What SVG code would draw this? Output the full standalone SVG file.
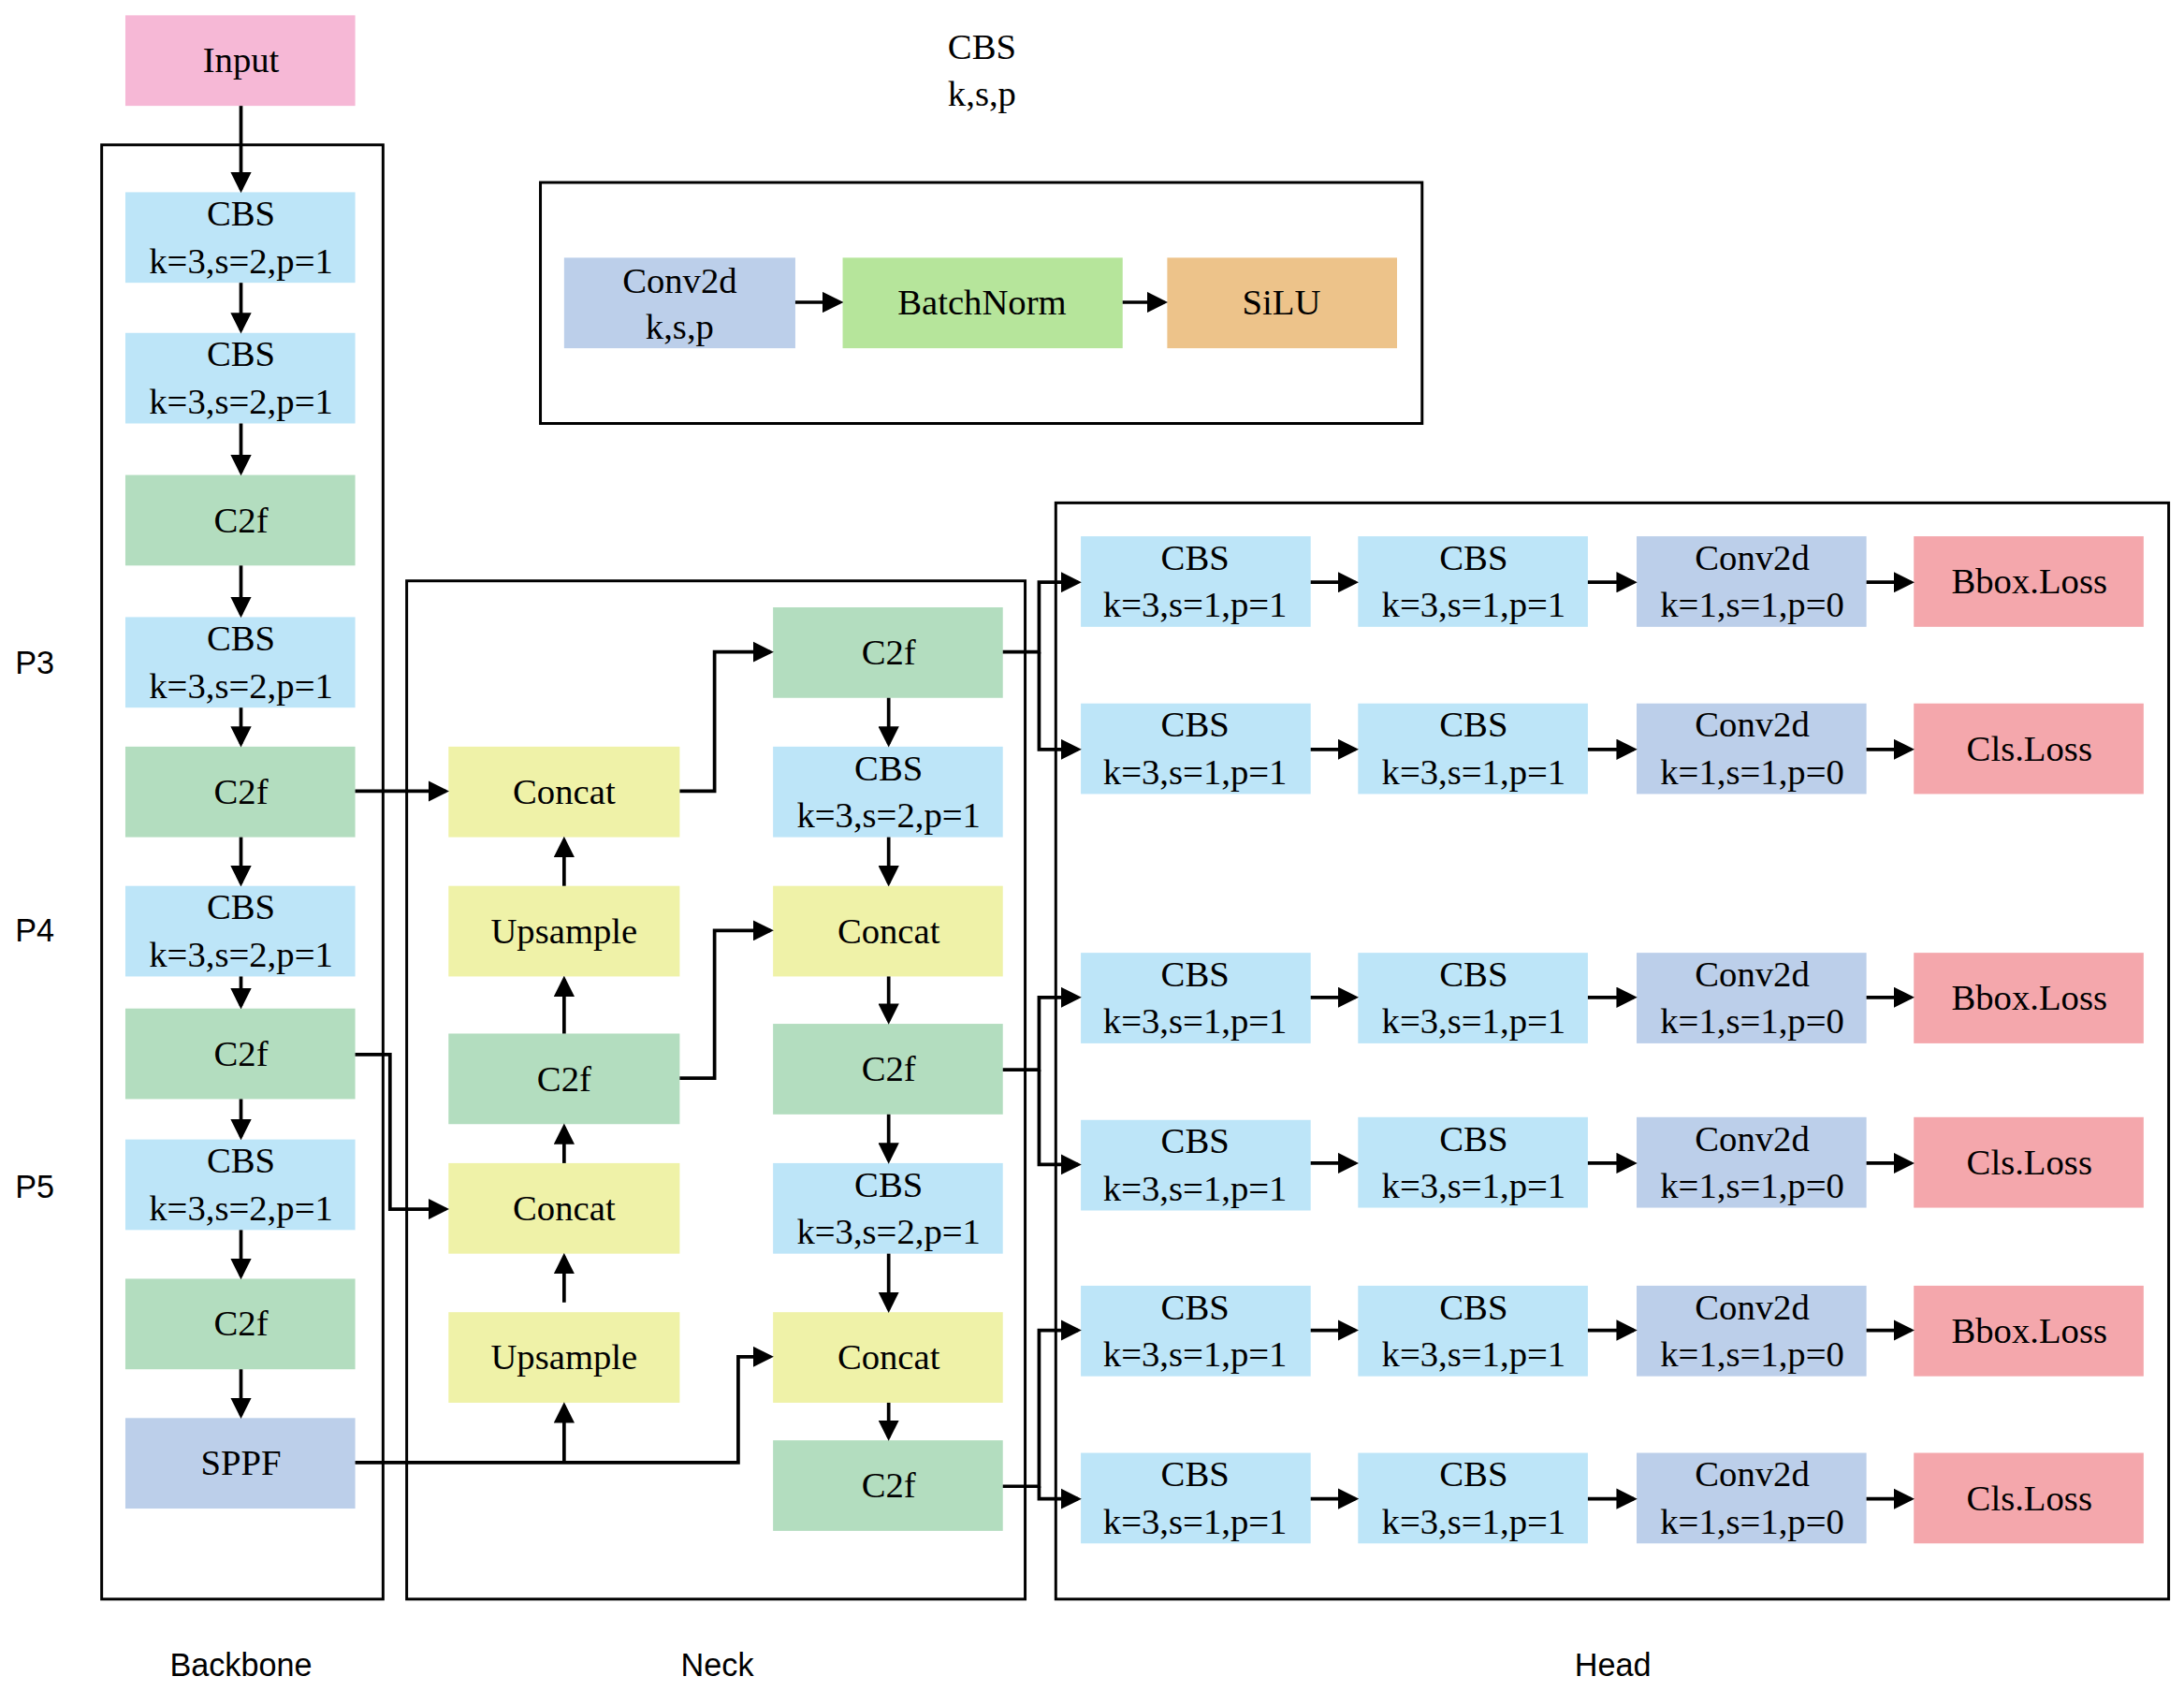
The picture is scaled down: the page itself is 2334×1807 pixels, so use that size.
<svg xmlns="http://www.w3.org/2000/svg" width="2334" height="1807" viewBox="0 0 2334 1807">
<style>
.t{font-family:"Liberation Serif",serif;font-size:26px;fill:#000;text-anchor:middle}
.s{font-family:"Liberation Sans",sans-serif;font-size:23px;fill:#000;text-anchor:middle}
.cbs{fill:#BDE5F8}.c2f{fill:#B3DDBF}.cat{fill:#EFF2A8}.cv{fill:#BCCFEA}.loss{fill:#F4A7AC}
.box{fill:none;stroke:#000;stroke-width:2}
.c path{fill:none;stroke:#000;stroke-width:2.5;marker-end:url(#a)}
</style>
<defs><marker id="a" markerWidth="6" markerHeight="6" refX="5" refY="3" orient="auto" markerUnits="strokeWidth"><path d="M0,0L6,3L0,6z" fill="#000"/></marker></defs>
<rect width="2334" height="1807" fill="#fff"/>
<g transform="scale(1.48852)">
<rect class="box" x="73" y="104" width="202" height="1044"/>
<rect class="box" x="292" y="417" width="444" height="731"/>
<rect class="box" x="758" y="361" width="799" height="787"/>
<rect class="box" x="388" y="131" width="633" height="173"/>
<text class="t" x="705" y="42">CBS</text><text class="t" x="705" y="76">k,s,p</text>
<text class="s" x="25" y="484">P3</text><text class="s" x="25" y="676">P4</text><text class="s" x="25" y="860">P5</text>
<text class="s" x="173" y="1203">Backbone</text><text class="s" x="515" y="1203">Neck</text><text class="s" x="1158" y="1203">Head</text>
<g id="input"><rect x="90" y="11" width="165" height="65" fill="#F6B8D6"/><text class="t" x="173" y="52">Input</text></g>
<g id="leg-conv"><rect class="cv" x="405" y="185" width="166" height="65"/><text class="t" x="488" y="210">Conv2d</text><text class="t" x="488" y="243">k,s,p</text></g>
<g id="leg-bn"><rect x="605" y="185" width="201" height="65" fill="#B6E59B"/><text class="t" x="705" y="226">BatchNorm</text></g>
<g id="leg-silu"><rect x="838" y="185" width="165" height="65" fill="#EDC38A"/><text class="t" x="920" y="226">SiLU</text></g>
<!-- backbone -->
<g id="b1"><rect class="cbs" x="90" y="138" width="165" height="65"/><text class="t" x="173" y="162">CBS</text><text class="t" x="173" y="196">k=3,s=2,p=1</text></g>
<g id="b2"><rect class="cbs" x="90" y="239" width="165" height="65"/><text class="t" x="173" y="263">CBS</text><text class="t" x="173" y="297">k=3,s=2,p=1</text></g>
<g id="b3"><rect class="c2f" x="90" y="341" width="165" height="65"/><text class="t" x="173" y="382">C2f</text></g>
<g id="b4"><rect class="cbs" x="90" y="443" width="165" height="65"/><text class="t" x="173" y="467">CBS</text><text class="t" x="173" y="501">k=3,s=2,p=1</text></g>
<g id="b5"><rect class="c2f" x="90" y="536" width="165" height="65"/><text class="t" x="173" y="577">C2f</text></g>
<g id="b6"><rect class="cbs" x="90" y="636" width="165" height="65"/><text class="t" x="173" y="660">CBS</text><text class="t" x="173" y="694">k=3,s=2,p=1</text></g>
<g id="b7"><rect class="c2f" x="90" y="724" width="165" height="65"/><text class="t" x="173" y="765">C2f</text></g>
<g id="b8"><rect class="cbs" x="90" y="818" width="165" height="65"/><text class="t" x="173" y="842">CBS</text><text class="t" x="173" y="876">k=3,s=2,p=1</text></g>
<g id="b9"><rect class="c2f" x="90" y="918" width="165" height="65"/><text class="t" x="173" y="959">C2f</text></g>
<g id="b10"><rect class="cv" x="90" y="1018" width="165" height="65"/><text class="t" x="173" y="1059">SPPF</text></g>
<!-- neck left -->
<g id="n1"><rect class="cat" x="322" y="536" width="166" height="65"/><text class="t" x="405" y="577">Concat</text></g>
<g id="n2"><rect class="cat" x="322" y="636" width="166" height="65"/><text class="t" x="405" y="677">Upsample</text></g>
<g id="n3"><rect class="c2f" x="322" y="742" width="166" height="65"/><text class="t" x="405" y="783">C2f</text></g>
<g id="n4"><rect class="cat" x="322" y="835" width="166" height="65"/><text class="t" x="405" y="876">Concat</text></g>
<g id="n5"><rect class="cat" x="322" y="942" width="166" height="65"/><text class="t" x="405" y="983">Upsample</text></g>
<!-- neck right -->
<g id="r1"><rect class="c2f" x="555" y="436" width="165" height="65"/><text class="t" x="638" y="477">C2f</text></g>
<g id="r2"><rect class="cbs" x="555" y="536" width="165" height="65"/><text class="t" x="638" y="560">CBS</text><text class="t" x="638" y="594">k=3,s=2,p=1</text></g>
<g id="r3"><rect class="cat" x="555" y="636" width="165" height="65"/><text class="t" x="638" y="677">Concat</text></g>
<g id="r4"><rect class="c2f" x="555" y="735" width="165" height="65"/><text class="t" x="638" y="776">C2f</text></g>
<g id="r5"><rect class="cbs" x="555" y="835" width="165" height="65"/><text class="t" x="638" y="859">CBS</text><text class="t" x="638" y="893">k=3,s=2,p=1</text></g>
<g id="r6"><rect class="cat" x="555" y="942" width="165" height="65"/><text class="t" x="638" y="983">Concat</text></g>
<g id="r7"><rect class="c2f" x="555" y="1034" width="165" height="65"/><text class="t" x="638" y="1075">C2f</text></g>
<!-- head rows -->
<g id="h1"><rect class="cbs" x="776" y="385" width="165" height="65"/><text class="t" x="858" y="409">CBS</text><text class="t" x="858" y="443">k=3,s=1,p=1</text><rect class="cbs" x="975" y="385" width="165" height="65"/><text class="t" x="1058" y="409">CBS</text><text class="t" x="1058" y="443">k=3,s=1,p=1</text><rect class="cv" x="1175" y="385" width="165" height="65"/><text class="t" x="1258" y="409">Conv2d</text><text class="t" x="1258" y="443">k=1,s=1,p=0</text><rect class="loss" x="1374" y="385" width="165" height="65"/><text class="t" x="1457" y="426">Bbox.Loss</text></g>
<g id="h2"><rect class="cbs" x="776" y="505" width="165" height="65"/><text class="t" x="858" y="529">CBS</text><text class="t" x="858" y="563">k=3,s=1,p=1</text><rect class="cbs" x="975" y="505" width="165" height="65"/><text class="t" x="1058" y="529">CBS</text><text class="t" x="1058" y="563">k=3,s=1,p=1</text><rect class="cv" x="1175" y="505" width="165" height="65"/><text class="t" x="1258" y="529">Conv2d</text><text class="t" x="1258" y="563">k=1,s=1,p=0</text><rect class="loss" x="1374" y="505" width="165" height="65"/><text class="t" x="1457" y="546">Cls.Loss</text></g>
<g id="h3"><rect class="cbs" x="776" y="684" width="165" height="65"/><text class="t" x="858" y="708">CBS</text><text class="t" x="858" y="742">k=3,s=1,p=1</text><rect class="cbs" x="975" y="684" width="165" height="65"/><text class="t" x="1058" y="708">CBS</text><text class="t" x="1058" y="742">k=3,s=1,p=1</text><rect class="cv" x="1175" y="684" width="165" height="65"/><text class="t" x="1258" y="708">Conv2d</text><text class="t" x="1258" y="742">k=1,s=1,p=0</text><rect class="loss" x="1374" y="684" width="165" height="65"/><text class="t" x="1457" y="725">Bbox.Loss</text></g>
<g id="h4"><rect class="cbs" x="776" y="804" width="165" height="65"/><text class="t" x="858" y="828">CBS</text><text class="t" x="858" y="862">k=3,s=1,p=1</text><rect class="cbs" x="975" y="802" width="165" height="65"/><text class="t" x="1058" y="826">CBS</text><text class="t" x="1058" y="860">k=3,s=1,p=1</text><rect class="cv" x="1175" y="802" width="165" height="65"/><text class="t" x="1258" y="826">Conv2d</text><text class="t" x="1258" y="860">k=1,s=1,p=0</text><rect class="loss" x="1374" y="802" width="165" height="65"/><text class="t" x="1457" y="843">Cls.Loss</text></g>
<g id="h5"><rect class="cbs" x="776" y="923" width="165" height="65"/><text class="t" x="858" y="947">CBS</text><text class="t" x="858" y="981">k=3,s=1,p=1</text><rect class="cbs" x="975" y="923" width="165" height="65"/><text class="t" x="1058" y="947">CBS</text><text class="t" x="1058" y="981">k=3,s=1,p=1</text><rect class="cv" x="1175" y="923" width="165" height="65"/><text class="t" x="1258" y="947">Conv2d</text><text class="t" x="1258" y="981">k=1,s=1,p=0</text><rect class="loss" x="1374" y="923" width="165" height="65"/><text class="t" x="1457" y="964">Bbox.Loss</text></g>
<g id="h6"><rect class="cbs" x="776" y="1043" width="165" height="65"/><text class="t" x="858" y="1067">CBS</text><text class="t" x="858" y="1101">k=3,s=1,p=1</text><rect class="cbs" x="975" y="1043" width="165" height="65"/><text class="t" x="1058" y="1067">CBS</text><text class="t" x="1058" y="1101">k=3,s=1,p=1</text><rect class="cv" x="1175" y="1043" width="165" height="65"/><text class="t" x="1258" y="1067">Conv2d</text><text class="t" x="1258" y="1101">k=1,s=1,p=0</text><rect class="loss" x="1374" y="1043" width="165" height="65"/><text class="t" x="1457" y="1084">Cls.Loss</text></g>
<g class="c" id="connectors">
<path d="M173,76V136"/><path d="M173,203V237"/><path d="M173,304V339"/><path d="M173,406V441"/><path d="M173,508V534"/><path d="M173,601V634"/><path d="M173,701V722"/><path d="M173,789V816"/><path d="M173,883V916"/><path d="M173,983V1016"/>
<path d="M571,217H603"/><path d="M806,217H836"/>
<path d="M255,568H320"/><path d="M255,757H280V868H320"/>
<path d="M405,636V603"/><path d="M405,742V703"/><path d="M405,835V809"/><path d="M405,935V902"/>
<path d="M255,1050H530V974H553"/><path d="M405,1050V1009"/>
<path d="M488,568H513V468H553"/><path d="M488,774H513V668H553"/>
<path d="M638,501V534"/><path d="M638,601V634"/><path d="M638,701V733"/><path d="M638,800V833"/><path d="M638,900V940"/><path d="M638,1007V1032"/>
<path d="M720,468H746V418H774"/><path d="M746,468V538H774"/>
<path d="M720,768H746V716H774"/><path d="M746,768V836H774"/>
<path d="M720,1067H746V955H774"/><path d="M746,1067V1076H774"/>
<path d="M941,418H973"/><path d="M1140,418H1173"/><path d="M1340,418H1372"/>
<path d="M941,538H973"/><path d="M1140,538H1173"/><path d="M1340,538H1372"/>
<path d="M941,716H973"/><path d="M1140,716H1173"/><path d="M1340,716H1372"/>
<path d="M941,835H973"/><path d="M1140,835H1173"/><path d="M1340,835H1372"/>
<path d="M941,955H973"/><path d="M1140,955H1173"/><path d="M1340,955H1372"/>
<path d="M941,1076H973"/><path d="M1140,1076H1173"/><path d="M1340,1076H1372"/>
</g>
</g>
</svg>
